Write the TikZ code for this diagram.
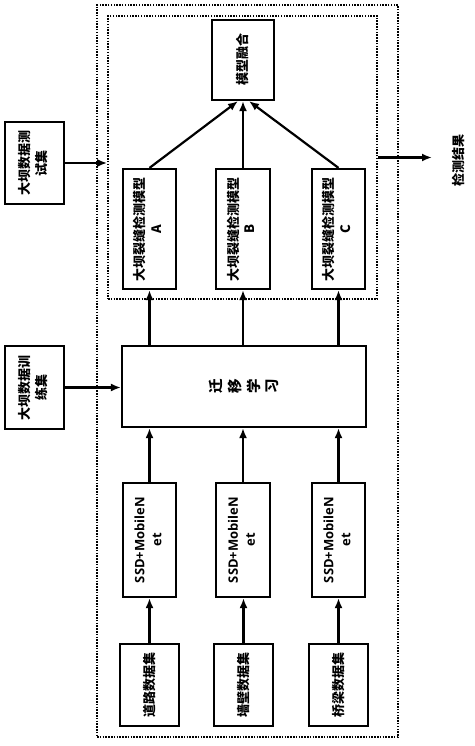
\documentclass[tikz,border=0pt]{standalone}
\usepackage{fontspec}
\newfontfamily\cjk{Noto Sans CJK SC}
\newfontfamily\lat{Open Sans}
\usetikzlibrary{arrows.meta,calc}
\newcommand{\rot}[1]{\rotatebox{90}{#1}}
\begin{document}
\begin{tikzpicture}[x=1pt,y=-1pt,
  box/.style={draw,line width=2.2pt,inner sep=0pt,align=center,font=\cjk\bfseries\fontsize{13}{16.5}\selectfont},
  latbox/.style={box,font=\lat\bfseries\fontsize{13}{17}\selectfont},
  dotbox/.style={draw,line width=1.7pt,dash pattern=on 1.5pt off 1.3pt,inner sep=0pt},
  arr/.style={line width=2.2pt,-{Latex[length=10pt,width=8pt]}},
  ]
\useasboundingbox (0,0) rectangle (474,746);
% dotted frames
\node[dotbox,minimum width=301,minimum height=732] (outer) at (247.5,371) {};
\node[dotbox,minimum width=269,minimum height=283] (inner) at (242.5,157.5) {};
% top
\node[box,minimum width=62,minimum height=80] (fuse) at (243,60) {\rot{模型融合}};
\node[box,minimum width=53,minimum height=120] (ma) at (149.5,229) {\rot{\begin{tabular}{@{}c@{}}大坝裂缝检测模型\\A\end{tabular}}};
\node[box,minimum width=54,minimum height=120] (mb) at (243,229) {\rot{\begin{tabular}{@{}c@{}}大坝裂缝检测模型\\B\end{tabular}}};
\node[box,minimum width=53,minimum height=120] (mc) at (338.5,229) {\rot{\begin{tabular}{@{}c@{}}大坝裂缝检测模型\\C\end{tabular}}};
% transfer learning
\node[box,minimum width=244,minimum height=81,font=\cjk\bfseries\fontsize{14.5}{17}\selectfont] (tl) at (244,386.5) {\rot{迁}\hspace{5pt}\rot{移}\hspace{5pt}\rot{学}\hspace{5pt}\rot{习}};
% SSD boxes
\node[latbox,minimum width=53,minimum height=114] (sa) at (149.5,540) {\rot{\begin{tabular}{@{}c@{}}SSD+MobileN\\et\end{tabular}}};
\node[latbox,minimum width=54,minimum height=114] (sb) at (243,540) {\rot{\begin{tabular}{@{}c@{}}SSD+MobileN\\et\end{tabular}}};
\node[latbox,minimum width=53,minimum height=114] (sc) at (338.5,540) {\rot{\begin{tabular}{@{}c@{}}SSD+MobileN\\et\end{tabular}}};
% data boxes
\node[box,minimum width=59,minimum height=82] (da) at (149.5,685) {\rot{道路数据集}};
\node[box,minimum width=59,minimum height=82] (db) at (243.5,685) {\rot{墙壁数据集}};
\node[box,minimum width=59,minimum height=82] (dc) at (338.5,685) {\rot{桥梁数据集}};
% left boxes
\node[box,minimum width=59,minimum height=82] (test) at (34.5,163) {\rot{\begin{tabular}{@{}c@{}}大坝数据测\\试集\end{tabular}}};
\node[box,minimum width=59,minimum height=83] (train) at (34.5,387.5) {\rot{\begin{tabular}{@{}c@{}}大坝数据训\\练集\end{tabular}}};
% result
\node[font=\cjk\bfseries\fontsize{13}{16}\selectfont,inner sep=0pt] (res) at (458,160) {\rot{检测结果}};
\coordinate (outend) at (432,157.5);
% arrows
\draw[arr] (ma.north) -- ($(fuse.south)+(-5,0)$);
\draw[arr] (mb.north) -- (fuse.south);
\draw[arr] (mc.north) -- ($(fuse.south)+(6,0)$);
\draw[arr] (tl.north -| ma) -- (ma.south);
\draw[arr] (tl.north -| mb) -- (mb.south);
\draw[arr] (tl.north -| mc) -- (mc.south);
\draw[arr] (sa.north) -- (sa.north |- tl.south);
\draw[arr] (sb.north) -- (sb.north |- tl.south);
\draw[arr] (sc.north) -- (sc.north |- tl.south);
\draw[arr] (da.north) -- (da.north |- sa.south);
\draw[arr] (db.north) -- (db.north |- sb.south);
\draw[arr] (dc.north) -- (dc.north |- sc.south);
\draw[arr] (test.east) -- (test.east -| inner.west);
\draw[arr] (train.east) -- (train.east -| tl.west);
\draw[arr] (inner.east) -- (outend);
\end{tikzpicture}
\end{document}
